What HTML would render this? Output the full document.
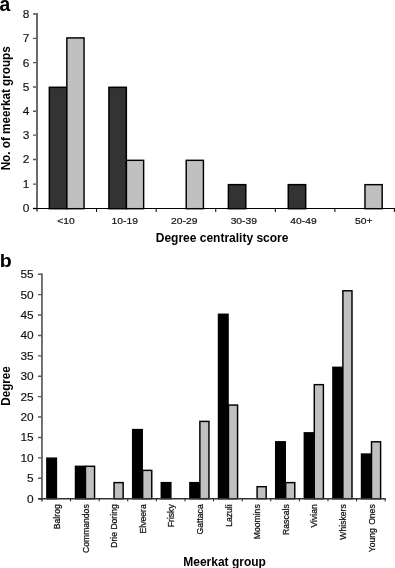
<!DOCTYPE html>
<html><head><meta charset="utf-8"><title>Meerkat degree centrality</title>
<style>
html,body{margin:0;padding:0;background:#fff;}
body{width:395px;height:568px;overflow:hidden;font-family:"Liberation Sans",Arial,Helvetica,sans-serif;}
svg{display:block;}
text{font-family:"Liberation Sans",Arial,Helvetica,sans-serif;fill:#111;}
.t{font-weight:bold;font-size:12px;fill:#000;}
.ty{font-weight:bold;font-size:11.7px;fill:#000;}
.p{font-weight:bold;font-size:19.3px;fill:#000;}
.y{font-size:11px;text-anchor:end;stroke:#111;stroke-width:0.15;}
.x{font-size:9.8px;text-anchor:middle;stroke:#111;stroke-width:0.2;}
.r{font-size:8.6px;text-anchor:end;stroke:#111;stroke-width:0.25;}
.ya{stroke:#6b6b6b;stroke-width:2;fill:none;}
.yt{stroke:#555;stroke-width:1.35;fill:none;}
.xa{stroke:#000;stroke-width:1;fill:none;}
.yb{stroke:#5a5a5a;stroke-width:1.7;fill:none;}
.ybt{stroke:#5a5a5a;stroke-width:1.4;fill:none;}
.xb{stroke:#333;stroke-width:1.5;fill:none;}
.xbt{stroke:#222;stroke-width:1;fill:none;}
.d{fill:#333;stroke:#000;stroke-width:1.5;}
.k{fill:#000;stroke:#000;stroke-width:1.4;}
.l{fill:#c0c0c0;stroke:#000;stroke-width:1.45;}
</style></head><body>
<svg width="395" height="568" viewBox="0 0 395 568">
<rect width="395" height="568" fill="#fff"/>
<!-- panel a -->
<text class="p" x="-0.6" y="10.9">a</text>
<text class="ty" transform="translate(9.6,108.3) scale(1.05,1) rotate(-90)" text-anchor="middle">No. of meerkat groups</text>
<rect class="d" x="49.35" y="87.31" width="17.4" height="121.39"/>
<rect class="l" x="66.85" y="37.91" width="17.2" height="170.79"/>
<rect class="d" x="108.93" y="87.31" width="17.4" height="121.39"/>
<rect class="l" x="126.43" y="160.32" width="17.2" height="48.38"/>
<rect class="l" x="186.22" y="160.32" width="17.2" height="48.38"/>
<rect class="d" x="228.4" y="184.66" width="17.4" height="24.04"/>
<rect class="d" x="288.28" y="184.66" width="17.4" height="24.04"/>
<rect class="l" x="364.97" y="184.66" width="17.2" height="24.04"/>
<path class="yt" d="M33 14H37M33 38.3H37M33 62.6H37M33 87H37M33 111.2H37M33 135.05H37M33 159.5H37M33 184.1H37M33 208.5H37"/>
<path class="ya" d="M37 13.1V211.6"/>
<path class="xa" d="M33 208.5H394.9M96.58 208V212M156.17 208V212M215.75 208V212M275.33 208V212M334.92 208V212M394.4 208V212"/>
<text class="y" transform="translate(29.4,17.9) scale(1.08,1)">8</text>
<text class="y" transform="translate(29.4,42.2) scale(1.08,1)">7</text>
<text class="y" transform="translate(29.4,66.5) scale(1.08,1)">6</text>
<text class="y" transform="translate(29.4,90.9) scale(1.08,1)">5</text>
<text class="y" transform="translate(29.4,115.1) scale(1.08,1)">4</text>
<text class="y" transform="translate(29.4,138.95) scale(1.08,1)">3</text>
<text class="y" transform="translate(29.4,163.4) scale(1.08,1)">2</text>
<text class="y" transform="translate(29.4,188) scale(1.08,1)">1</text>
<text class="y" transform="translate(29.4,212.4) scale(1.08,1)">0</text>
<text class="x" transform="translate(65.99,224.3) scale(1.055,1)">&lt;10</text>
<text class="x" transform="translate(124.68,224.3) scale(1.055,1)">10-19</text>
<text class="x" transform="translate(184.26,224.3) scale(1.055,1)">20-29</text>
<text class="x" transform="translate(243.84,224.3) scale(1.055,1)">30-39</text>
<text class="x" transform="translate(303.43,224.3) scale(1.055,1)">40-49</text>
<text class="x" transform="translate(363.71,224.3) scale(1.055,1)">50+</text>
<text class="t" x="222.1" y="242.1" text-anchor="middle">Degree centrality score</text>
<!-- panel b -->
<text class="p" style="font-size:18.3px" transform="translate(-0.3,266.6) scale(1.07,1)">b</text>
<text class="ty" transform="translate(9.6,386) scale(1.05,1) rotate(-90)" text-anchor="middle">Degree</text>
<rect class="k" x="46.85" y="458.13" width="9.6" height="40.57"/>
<rect class="k" x="75.45" y="466.3" width="9.6" height="32.4"/>
<rect class="l" x="85.45" y="466.3" width="9.1" height="32.4"/>
<rect class="l" x="114.06" y="482.62" width="9.1" height="16.08"/>
<rect class="k" x="132.66" y="429.56" width="9.6" height="69.14"/>
<rect class="l" x="142.66" y="470.38" width="9.1" height="28.32"/>
<rect class="k" x="161.27" y="482.62" width="9.6" height="16.08"/>
<rect class="k" x="189.87" y="482.62" width="9.6" height="16.08"/>
<rect class="l" x="199.87" y="421.4" width="9.1" height="77.3"/>
<rect class="k" x="218.47" y="314.25" width="9.6" height="184.45"/>
<rect class="l" x="228.47" y="405.07" width="9.1" height="93.63"/>
<rect class="l" x="257.08" y="486.7" width="9.1" height="12"/>
<rect class="k" x="275.68" y="441.8" width="9.6" height="56.9"/>
<rect class="l" x="285.68" y="482.62" width="9.1" height="16.08"/>
<rect class="k" x="304.29" y="432.82" width="9.6" height="65.88"/>
<rect class="l" x="314.29" y="384.66" width="9.1" height="114.04"/>
<rect class="k" x="332.89" y="367.31" width="9.6" height="131.39"/>
<rect class="l" x="342.89" y="290.78" width="9.1" height="207.92"/>
<rect class="k" x="361.5" y="454.05" width="9.6" height="44.65"/>
<rect class="l" x="371.5" y="441.8" width="9.1" height="56.9"/>
<path class="ybt" d="M37.95 274.2H41.95M37.95 294.61H41.95M37.95 315.02H41.95M37.95 335.43H41.95M37.95 355.84H41.95M37.95 376.25H41.95M37.95 396.65H41.95M37.95 417.06H41.95M37.95 437.47H41.95M37.95 457.88H41.95M37.95 478.29H41.95M37.95 498.7H41.95"/>
<path class="yb" d="M41.95 273.5V501.4"/>
<path class="xb" d="M38.2 498.7H385.7"/>
<path class="xbt" d="M70.55 498.7V501.4M99.16 498.7V501.4M127.76 498.7V501.4M156.37 498.7V501.4M184.97 498.7V501.4M213.57 498.7V501.4M242.18 498.7V501.4M270.78 498.7V501.4M299.39 498.7V501.4M327.99 498.7V501.4M356.6 498.7V501.4M385.2 498.7V501.4"/>
<text class="y" transform="translate(33.6,278.1) scale(1.08,1)">55</text>
<text class="y" transform="translate(33.6,298.51) scale(1.08,1)">50</text>
<text class="y" transform="translate(33.6,318.92) scale(1.08,1)">45</text>
<text class="y" transform="translate(33.6,339.33) scale(1.08,1)">40</text>
<text class="y" transform="translate(33.6,359.74) scale(1.08,1)">35</text>
<text class="y" transform="translate(33.6,380.15) scale(1.08,1)">30</text>
<text class="y" transform="translate(33.6,400.55) scale(1.08,1)">25</text>
<text class="y" transform="translate(33.6,420.96) scale(1.08,1)">20</text>
<text class="y" transform="translate(33.6,441.37) scale(1.08,1)">15</text>
<text class="y" transform="translate(33.6,461.78) scale(1.08,1)">10</text>
<text class="y" transform="translate(33.6,482.19) scale(1.08,1)">5</text>
<text class="y" transform="translate(33.6,502.6) scale(1.08,1)">0</text>
<text class="r" transform="translate(59.95,504.3) rotate(-90)">Balrog</text>
<text class="r" transform="translate(88.55,504.3) rotate(-90)">Commandos</text>
<text class="r" style="word-spacing:0px" transform="translate(117.16,504.3) rotate(-90)">Drie Doring</text>
<text class="r" transform="translate(145.76,504.3) rotate(-90)">Elveera</text>
<text class="r" transform="translate(174.37,504.3) rotate(-90)">Frisky</text>
<text class="r" transform="translate(202.97,504.3) rotate(-90)">Gattaca</text>
<text class="r" transform="translate(231.57,504.3) rotate(-90)">Lazuli</text>
<text class="r" transform="translate(260.18,504.3) rotate(-90)">Moomins</text>
<text class="r" transform="translate(288.78,504.3) rotate(-90)">Rascals</text>
<text class="r" transform="translate(317.39,504.3) rotate(-90)">Vivian</text>
<text class="r" transform="translate(345.99,504.3) rotate(-90)">Whiskers</text>
<text class="r" style="word-spacing:1px" transform="translate(374.6,504.3) rotate(-90)">Young Ones</text>
<text class="t" x="224.6" y="565.6" text-anchor="middle">Meerkat group</text>
</svg>
</body></html>
